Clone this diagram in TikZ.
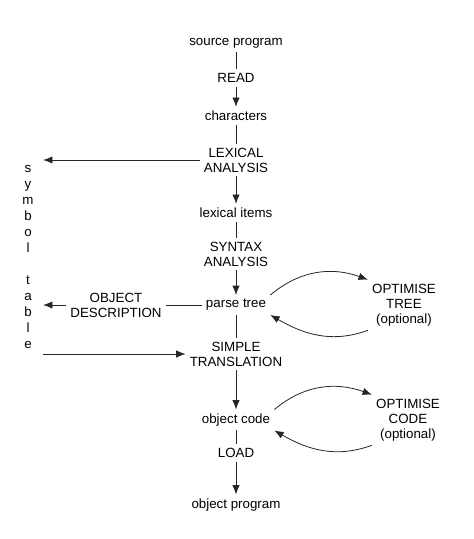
\documentclass[tikz,border=0pt]{standalone}
\usepackage{fontspec}
\setmainfont{Liberation Sans}
\usetikzlibrary{arrows.meta}

\begin{document}
\begin{tikzpicture}[
    x=0.75pt, y=-0.75pt,
    stage/.style={align=center, font=\fontsize{10}{11.25}\selectfont, inner sep=3pt},
    link/.style={line width=0.6pt, black!85},
    connection/.style={link, -{Latex[length=7pt, width=5.5pt]}}
  ]
    \useasboundingbox (0,0) rectangle (474,539);

    % Main column
    \node[stage] (src) at (236,43) {source program};
    \node[stage] (read) at (236,78) {READ};
    \node[stage] (chars) at (236,116) {characters};
    \node[stage] (lex) at (236,160) {LEXICAL\\ANALYSIS};
    \node[stage] (items) at (236,213) {lexical items};
    \node[stage] (syn) at (236,254) {SYNTAX\\ANALYSIS};
    \node[stage] (parse) at (236,305) {parse tree};
    \node[stage] (simple) at (236,354) {SIMPLE\\TRANSLATION};
    \node[stage] (obj) at (236,420) {object code};
    \node[stage] (load) at (236,453) {LOAD};
    \node[stage] (prog) at (236,505) {object program};

    % Symbol table
    \node[stage, font=\fontsize{10}{12}\selectfont, inner xsep=7pt] (symtab) at (28,257)
      {s\\y\\m\\b\\o\\l\\\mbox{}\\t\\a\\b\\l\\e};
    \node[stage] (objdesc) at (116,305) {OBJECT\\DESCRIPTION};

    % Optimisers
    \node[stage] (opttree) at (404,305) {OPTIMISE\\TREE\\(optional)};
    \node[stage] (optcode) at (408,420) {OPTIMISE\\CODE\\(optional)};

    % Connections
    \foreach \a/\b in {src/read, chars/lex, items/syn, parse/simple, obj/load}
      \draw[link] (\a) -- (\b);

    \foreach \a/\b in {read/chars, lex/items, syn/parse, simple/obj, load/prog}
      \draw[connection] (\a) -- (\b);

    \draw[connection] (lex.west) -- (lex.west -| symtab.east);
    \draw[link] (parse.west) -- (objdesc.east);
    \draw[connection] (objdesc.west) -- (objdesc.west -| symtab.east);
    \draw[connection] (symtab.east |- simple.west) -- (simple.west);

    \draw[connection] (parse.north east) to[out=40, in=160] (opttree.north west);
    \draw[connection] (opttree.south west) to[out=200, in=-30] (parse.south east);
    \draw[connection] (obj.north east) to[out=40, in=160] (optcode.north west);
    \draw[connection] (optcode.south west) to[out=200, in=-30] (obj.south east);

  \end{tikzpicture}
\end{document}
